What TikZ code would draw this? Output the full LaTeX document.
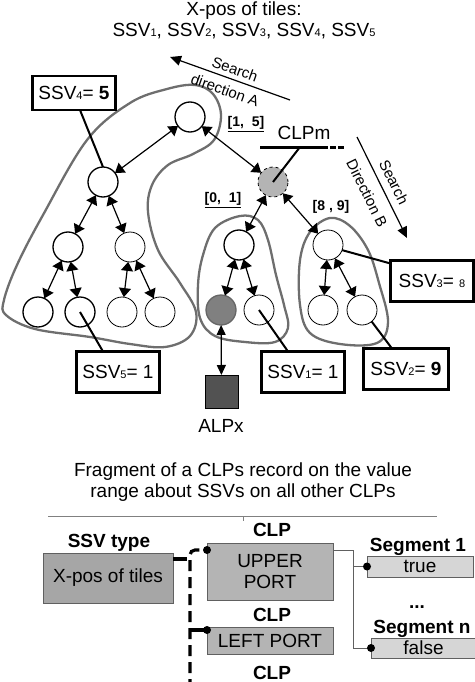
\documentclass[tikz,border=0pt]{standalone}
\usepackage{fontspec}
\setmainfont{Liberation Sans}
\usetikzlibrary{arrows.meta}
\newcommand{\sbs}[1]{{\fontsize{11}{11}\selectfont #1}}
\definecolor{loopgray}{HTML}{6E6E6E}
\definecolor{boxgray}{HTML}{A6A6A6}
\definecolor{portgray}{HTML}{B4B4B4}
\definecolor{seggray}{HTML}{D6D6D6}
\definecolor{edgegray}{HTML}{606060}
\begin{document}
\begin{tikzpicture}[x=1pt,y=-1pt,
  every node/.style={inner sep=0pt, outer sep=0pt},
  txt/.style={font=\fontsize{19}{21}\selectfont, align=center},
  btxt/.style={font=\fontsize{19}{21}\selectfont\bfseries, align=center},
  stxt/.style={font=\fontsize{15}{15}\selectfont},
  itv/.style={font=\fontsize{14}{14}\selectfont\bfseries},
  circ/.style={circle, draw, fill=white, minimum size=30pt, line width=1.3pt},
  lcirc/.style={circ, line width=0.8pt},
  tarr/.style={{Triangle[width=12pt,length=9pt]}-{Triangle[width=12pt,length=9pt]}, line width=1.2pt},
  loopst/.style={draw=loopgray, line width=2.3pt},
  lab/.style={draw, line width=2.2pt, fill=white, minimum width=83pt, minimum height=41pt, font=\fontsize{19}{19}\selectfont},
  conn/.style={line width=2pt},
  dirarr/.style={-{Triangle[width=10pt,length=11pt]}, line width=1.2pt},
  gbox/.style={draw=edgegray, line width=0.8pt, font=\fontsize{19}{21}\selectfont, align=center},
  thinl/.style={draw=edgegray, line width=0.8pt},
  dot/.style={circle, fill=black, minimum size=8pt},
  dashl/.style={line width=3.2pt, dash pattern=on 11pt off 6pt}
]
\useasboundingbox (0,0) rectangle (474,682);

% title
\node[txt] (title) at (244,20) {X-pos of tiles:\\SSV\sbs{1}, SSV\sbs{2}, SSV\sbs{3}, SSV\sbs{4}, SSV\sbs{5}};

% loops
\draw[loopst] plot[smooth cycle, tension=0.6] coordinates {(4,300) (17,265) (43,215) (87,140) (130,103) (167,89) (195,85) (213,94) (221,115) (214,140) (193,154) (168,165) (152,185) (148,212) (158,250) (180,283) (196,312) (190,336) (165,347) (130,344) (90,337) (35,329) (6,315)};
\draw[loopst] plot[smooth cycle, tension=0.6] coordinates {(240,216) (258,220) (268,240) (276,275) (284,305) (288,328) (275,342) (245,342) (215,336) (200,318) (198,285) (203,255) (215,228)};
\draw[loopst] plot[smooth cycle, tension=0.6] coordinates {(330,218) (350,226) (368,250) (379,283) (388,322) (377,343) (340,344) (310,333) (300,305) (300,260) (310,232)};

% tree nodes
\node[circ] (t) at (190,117) {};
\node[circ] (a) at (103,182) {};
\node[circ] (a1) at (68,247) {};
\node[lcirc] (a2) at (130,247) {};
\node[circ] (a11) at (38,312) {};
\node[circ] (a12) at (80,312) {};
\node[lcirc] (a21) at (122,312) {};
\node[lcirc] (a22) at (160,312) {};
\node[circ, fill=portgray, line width=0.8pt, dashed] (m) at (273,182) {};
\node[circ] (b) at (239,245) {};
\node[lcirc] (c) at (328,245) {};
\node[circ, fill=gray, draw=gray!80!black] (b1) at (221,310) {};
\node[lcirc] (b2) at (259,310) {};
\node[lcirc] (c1) at (323,310) {};
\node[lcirc] (c2) at (362,310) {};

\draw[tarr] (t) -- (a);
\draw[tarr] (t) -- (m);
\draw[tarr] (a) -- (a1);
\draw[tarr] (a) -- (a2);
\draw[tarr] (a1) -- (a11);
\draw[tarr] (a1) -- (a12);
\draw[tarr] (a2) -- (a21);
\draw[tarr] (a2) -- (a22);
\draw[tarr] (m) -- (b);
\draw[tarr] (m) -- (c);
\draw[tarr] (b) -- (b1);
\draw[tarr] (b) -- (b2);
\draw[tarr] (c) -- (c1);
\draw[tarr] (c) -- (c2);

% ALPx
\node[draw, fill=black!68, minimum size=33pt, line width=0.8pt] (alp) at (221.5,391.5) {};
\draw[{Triangle[width=9pt,length=10pt]}-{Triangle[width=9pt,length=10pt]}, line width=1.2pt] (b1) -- (alp);
\node[txt] (alpx) at (221,426) {ALPx};

% interval labels
\node[itv] (i15) at (246,124) {\underline{[1,\ \ 5]}};
\node[itv] (i01) at (223,200) {\underline{[0,\ \ 1]}};
\node[itv] (i89) at (331,207) {[8 , 9]};

% CLPm
\node[txt] (clpm) at (304,133) {CLPm};
\coordinate (clpL) at (260,147);
\coordinate (clpD) at (322,147);
\coordinate (clpR) at (345,147);
\coordinate (clpJ) at (300,147);
\draw[line width=3pt] (clpL) -- (clpD);
\draw[line width=3pt, dash pattern=on 6pt off 2pt] (clpD) -- (clpR);
\draw[conn] (clpJ) -- (m.center);

% search directions
\coordinate (sa1) at (290,100);
\coordinate (sa2) at (170,57);
\draw[dirarr] (sa1) -- (sa2);
\node[stxt, rotate=-19.7] (saT) at (235,69) {Search};
\node[stxt, rotate=-19.7] (saB) at (225,90) {direction A};
\coordinate (sb1) at (357,137);
\coordinate (sb2) at (407,238);
\draw[dirarr] (sb1) -- (sb2);
\node[stxt, rotate=-63.7] (sbT) at (394,182) {Search};
\node[stxt, rotate=-63.7] (sbB) at (367,193) {Direction B};

% SSV label boxes
\node[lab, minimum height=34pt] (l4) at (74,93) {SSV\sbs{4}= \textbf{5}};
\node[lab] (l5) at (118,372) {SSV\sbs{5}= 1};
\node[lab] (l1) at (303,372) {SSV\sbs{1}= 1};
\node[lab, minimum width=85pt] (l2) at (406,369) {SSV\sbs{2}= \textbf{9}};
\node[lab] (l3) at (432,281) {SSV\sbs{3}= \sbs{8}};

\draw[conn] ([xshift=6pt]l4.south) -- (a.north);
\draw[conn] (a12.center) -- ([xshift=-15pt]l5.north);
\draw[conn] (b2.center) -- ([xshift=-15pt]l1.north);
\draw[conn] (c2.-50) -- ([xshift=-14pt]l2.north);
\draw[conn] (c.-20) -- ([yshift=-3pt]l3.north west);

% lower part
\node[txt] (frag) at (243,482) {Fragment of a CLPs record on the value\\range about SSVs on all other CLPs};
\coordinate (hl1) at (48,516);
\coordinate (hl2) at (437,516);
\coordinate (tk1) at (243,516);
\coordinate (tk2) at (243,521);
\draw[gray, line width=0.9pt] (hl1) -- (hl2);
\draw[gray, line width=0.9pt] (tk1) -- (tk2);

\node[btxt] (ssvt) at (109,543) {SSV type};
\node[gbox, fill=boxgray, minimum width=130pt, minimum height=50pt] (xpos) at (108,578) {X-pos of tiles};
\node[btxt] (clp1) at (272,530) {CLP};
\node[gbox, fill=portgray, minimum width=126pt, minimum height=57pt] (up) at (270,571.5) {UPPER\\PORT};
\node[btxt] (clp2) at (272,615) {CLP};
\node[gbox, fill=portgray, minimum width=126pt, minimum height=27pt] (lp) at (270,640.5) {LEFT PORT};
\node[btxt] (clp3) at (272,673) {CLP};

\node[btxt] (seg1) at (418,547) {Segment 1};
\node[gbox, fill=seggray, minimum width=106pt, minimum height=21pt] (tr) at (420,566.5) {true};
\node[btxt] (dots) at (417,607) {...};
\node[btxt] (segn) at (422,629) {Segment n};
\node[gbox, fill=seggray, minimum width=105pt, minimum height=20pt] (fa) at (423.5,648) {false};

\coordinate (j1) at (333,550);
\coordinate (j2) at (353,550);
\coordinate (j3) at (353,566.5);
\coordinate (j4) at (353,648);
\draw[thinl] (j1) -- (j2) -- (j4) -- (fa.west);
\draw[thinl] (j3) -- (tr.west);
\node[dot] (dt) at (tr.west) {};
\node[dot] (df) at (fa.west) {};

\coordinate (x1) at (173,559);
\coordinate (x2) at (187,559);
\draw[line width=3.2pt] (x1) -- (x2);
\coordinate (vb) at (190,690);
\coordinate (vt) at (190,550);
\coordinate (d1) at (207,550);
\coordinate (vl) at (190,630);
\coordinate (d2) at (207,630);
\draw[dashl, rounded corners=5pt] (vb) -- (vt) -- (d1);
\draw[line width=3.2pt] (vl) -- (d2);
\node[dot] (dd1) at (d1) {};
\node[dot] (dd2) at (d2) {};
\end{tikzpicture}
\end{document}
